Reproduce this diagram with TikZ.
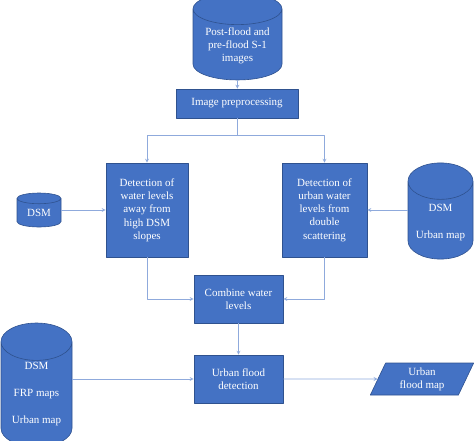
\documentclass[tikz,border=0pt]{standalone}
\usepackage{fontspec}
\setmainfont{Liberation Serif}
\usetikzlibrary{shapes.geometric}
\definecolor{boxblue}{HTML}{4472C4}
\definecolor{edgeblue}{HTML}{2F528F}
\definecolor{linkblue}{HTML}{8FAADC}
\tikzset{
  proc/.style={rectangle, draw=edgeblue, line width=0.6pt, fill=boxblue, text=white,
    align=center, inner sep=0pt, font=\fontsize{11}{13.3}\selectfont},
  store/.style={cylinder, shape border rotate=90, anchor=shape center, draw=edgeblue,
    line width=0.6pt, fill=boxblue, text=white, align=center, inner sep=0pt,
    font=\fontsize{11}{13.3}\selectfont},
  io/.style={trapezium, trapezium left angle=68, trapezium right angle=112,
    trapezium stretches=true, draw=edgeblue, line width=0.6pt, fill=boxblue,
    text=white, align=center, inner sep=0pt, font=\fontsize{11}{13.3}\selectfont},
  link/.style={draw=linkblue, line width=0.8pt}
}
\newcommand{\lowerby}[1]{\mbox{}\\[#1]}
\begin{document}
\begin{tikzpicture}[x=1pt, y=-1pt, line join=round, >=stealth]
	\useasboundingbox (0,0) rectangle (474,440);
	% sources
	\node[store, minimum width=89pt, minimum height=71pt, aspect=0.49] (imgs) at (237.5,36.5)
		{\lowerby{-3pt}Post-flood and\\ pre-flood S-1\\ images};
	\node[store, minimum width=44pt, minimum height=34pt, aspect=0.45] (dsmA) at (39,210) {DSM};
	\node[store, minimum width=65pt, minimum height=86pt, aspect=0.74] (dsmB) at (440.5,211)
		{\lowerby{-1pt}DSM\\[13.3pt] Urban map};
	\node[store, minimum width=71pt, minimum height=124pt, aspect=0.76] (dsmC) at (36.5,385)
		{\lowerby{-7pt}DSM\\[13.3pt] FRP maps\\[13.3pt] Urban map};
	% processing steps
	\node[proc, minimum width=122pt, minimum height=29pt] (prep) at (237,103.5) {Image preprocessing};
	\node[proc, minimum width=82pt, minimum height=94pt] (lvl) at (147,210)
		{Detection of\\ water levels\\ away from\\ high DSM\\ slopes};
	\node[proc, minimum width=85pt, minimum height=94pt] (urb) at (324.5,210)
		{Detection of\\ urban water\\ levels from\\ double\\ scattering};
	\node[proc, minimum width=89pt, minimum height=48pt] (comb) at (238.5,299) {Combine water\\ levels};
	\node[proc, minimum width=89pt, minimum height=48pt] (det) at (238.5,379) {Urban flood\\ detection};
	\node[io, minimum width=104pt, minimum height=32pt] (map) at (422,379) {Urban\\ flood map};
	\coordinate (split) at (237,135);
	% connectors
	\draw[link,->] (imgs.bottom) -- (prep);
	\draw[link] (prep) -- (split);
	\draw[link,->] (split) -| (lvl);
	\draw[link,->] (split) -| (urb);
	\draw[link,->] (dsmA.east |- lvl.west) -- (lvl.west);
	\draw[link,->] (dsmB.west |- urb.east) -- (urb.east);
	\draw[link,->] (lvl) |- (comb);
	\draw[link,->] (urb) |- (comb);
	\draw[link,->] (comb) -- (det);
	\draw[link,->] (det.west -| dsmC.east) -- (det.west);
	\draw[link,->] (det) -- (map);
\end{tikzpicture}
\end{document}
